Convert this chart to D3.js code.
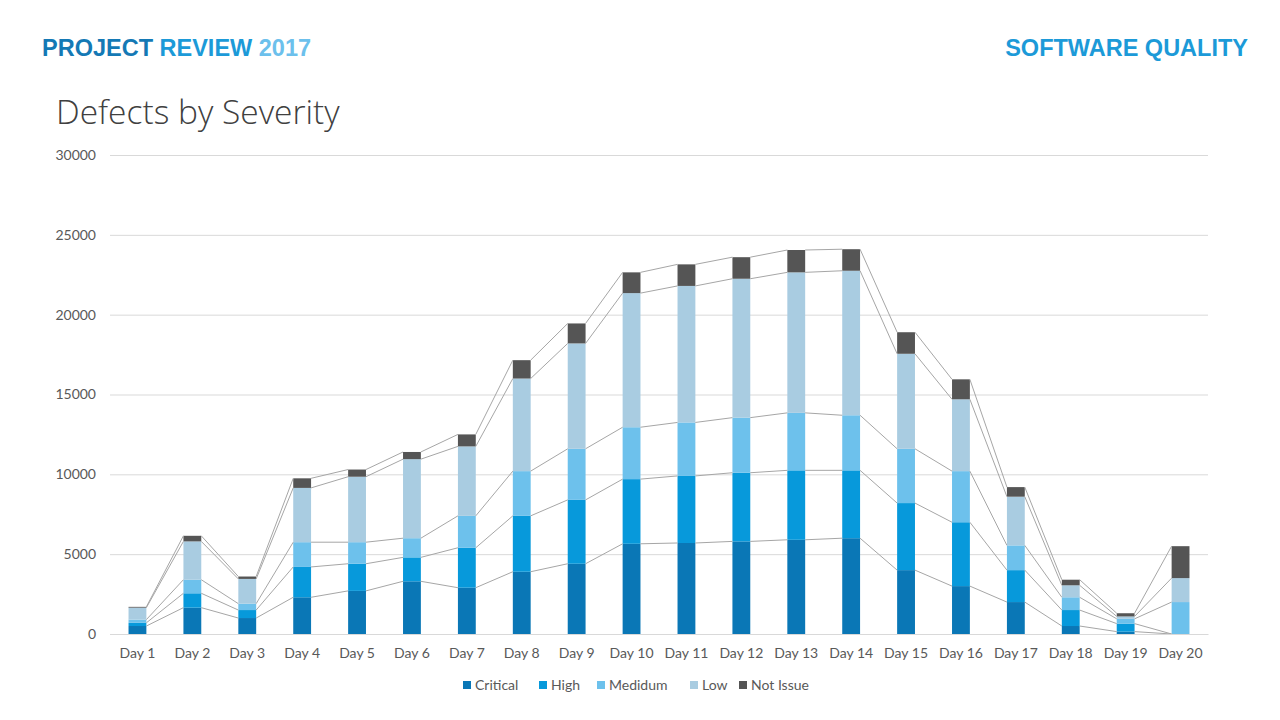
<!DOCTYPE html>
<html lang="en">
<head>
    <meta charset="UTF-8">
    <title>Defects by Severity</title>
    <script src="https://d3js.org/d3.v7.min.js"></script>
    <style>
        body { margin: 0; background: #fff; }
        svg { display: block; }
        .hdr { font-family: "Liberation Sans", Arial, sans-serif; font-weight: bold; font-size: 23.5px; }
        .title { font-family: "Open Sans", sans-serif; font-weight: 300; font-size: 33.5px; fill: #404040; }
        .tick text { font-family: Lato, "Open Sans", sans-serif; font-size: 14px; fill: #595959; }
        .legend text { font-family: Lato, "Open Sans", sans-serif; font-size: 14px; fill: #595959; }
    </style>
</head>
<body>
<script>
    const days = ["Day 1","Day 2","Day 3","Day 4","Day 5","Day 6","Day 7","Day 8","Day 9","Day 10",
                  "Day 11","Day 12","Day 13","Day 14","Day 15","Day 16","Day 17","Day 18","Day 19","Day 20"];
    const severities = ["Critical", "High", "Medidum", "Low", "Not Issue"];
    const colors = ["#0a77b6", "#0799db", "#6dc1ec", "#a9cce1", "#555555"];

    const critical = [500, 1650, 1000, 2300, 2700, 3300, 2900, 3900, 4400, 5650, 5700, 5800, 5900, 6000, 4000, 3000, 2000, 500, 150, 0];
    const high     = [200,  900,  500, 1900, 1700, 1500, 2500, 3500, 4000, 4050, 4200, 4300, 4350, 4250, 4200, 4000, 2000, 1000, 500, 0];
    const medium   = [200,  850,  400, 1550, 1350, 1200, 2000, 2800, 3200, 3250, 3350, 3450, 3600, 3450, 3400, 3200, 1550,  800, 300, 2000];
    const low      = [750, 2400, 1550, 3400, 4100, 4950, 4350, 5800, 6600, 8400, 8550, 8700, 8800, 9050, 5950, 4500, 3050,  750, 150, 1500];
    const notIssue = [ 50,  350,  150,  600,  450,  450,  750, 1150, 1250, 1300, 1350, 1350, 1400, 1350, 1350, 1250,  600,  350, 200, 2000];

    const yTicks = [0, 5000, 10000, 15000, 20000, 25000, 30000];

    const width = 1280, height = 720;
    const svg = d3.select("body").append("svg").attr("width", width).attr("height", height);

    // header
    const h1 = svg.append("text").attr("class", "hdr").attr("x", 42).attr("y", 56);
    h1.append("tspan").attr("fill", "#1479b5").text("PROJECT ");
    h1.append("tspan").attr("fill", "#1c9ad8").text("REVIEW ");
    h1.append("tspan").attr("fill", "#6cc0ec").text("2017");
    svg.append("text").attr("class", "hdr").attr("x", 1248).attr("y", 56)
        .attr("text-anchor", "end").attr("fill", "#1c9ad8").text("SOFTWARE QUALITY");

    svg.append("text").attr("class", "title").attr("x", 56).attr("y", 124).text("Defects by Severity");

    const rows = days.map((d, i) => ({
        day: d,
        Critical: critical[i], High: high[i], Medidum: medium[i], Low: low[i], "Not Issue": notIssue[i]
    }));
    const stacked = d3.stack().keys(severities)(rows);

    const x = d3.scaleBand().domain(days).range([110, 1208]).paddingInner(0.675).paddingOuter(0.3375);
    const y = d3.scaleLinear().domain([0, 30000]).range([634, 155]);

    // gridlines + y axis
    const yAxis = svg.append("g").attr("transform", "translate(110,0)")
        .call(d3.axisLeft(y).tickValues(yTicks).tickSize(-1098).tickPadding(14).tickFormat(d3.format("d")));
    yAxis.select(".domain").remove();
    yAxis.selectAll(".tick line").attr("stroke", "#d9d9d9");

    // bars
    const layers = svg.append("g").selectAll("g").data(stacked).join("g")
        .attr("fill", (d, i) => colors[i]);
    layers.selectAll("rect").data(d => d).join("rect")
        .attr("x", d => x(d.data.day))
        .attr("width", x.bandwidth())
        .attr("y", d => y(d[1]))
        .attr("height", d => y(d[0]) - y(d[1]));

    // series lines between bars
    const segs = [];
    stacked.forEach(layer => {
        for (let i = 0; i < layer.length - 1; i++) {
            segs.push({
                x1: x(days[i]) + x.bandwidth(), y1: y(layer[i][1]),
                x2: x(days[i + 1]), y2: y(layer[i + 1][1])
            });
        }
    });
    svg.append("g").selectAll("line").data(segs).join("line")
        .attr("x1", d => d.x1).attr("y1", d => d.y1)
        .attr("x2", d => d.x2).attr("y2", d => d.y2)
        .attr("stroke", "#a6a6a6").attr("stroke-width", 1);

    // x axis
    const xAxis = svg.append("g").attr("transform", "translate(0,634)")
        .call(d3.axisBottom(x).tickSize(0).tickPadding(14));
    xAxis.select(".domain").attr("stroke", "#d9d9d9");

    // legend
    const legendX = [463, 539, 597, 690, 739];
    const legend = svg.append("g").attr("class", "legend").selectAll("g").data(severities).join("g")
        .attr("transform", (d, i) => `translate(${legendX[i]},685)`);
    legend.append("rect").attr("x", 0).attr("y", -4).attr("width", 8).attr("height", 8)
        .attr("fill", (d, i) => colors[i]);
    legend.append("text").attr("x", 12).attr("y", 0).attr("dy", "0.35em").text(d => d);
</script>
</body>
</html>
